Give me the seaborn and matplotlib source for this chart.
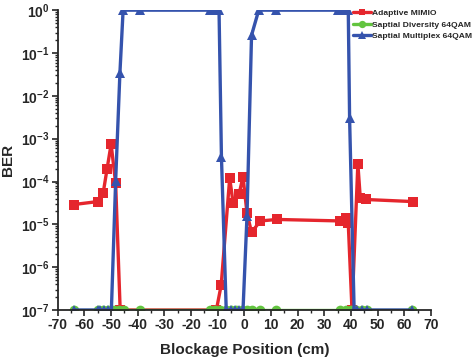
import numpy as np
import pandas as pd
import matplotlib.pyplot as plt
import seaborn as sns

# Adaptive MIMIO (red squares)
mimo_x = [-64, -55, -53, -51.5, -50, -48.3, -46.6, -10.5, -8.7, -5.5, -4.2, -2, -0.5,
          1, 2.7, 6, 12.3, 36, 38, 39, 40.4, 42.6, 43.5, 45.6, 63.2]
mimo_y = [2.9e-5, 3.4e-5, 5.3e-5, 2e-4, 7.5e-4, 9e-5, 1e-7, 1e-7, 3.8e-7, 1.2e-4, 3.1e-5,
          5e-5, 1.3e-4, 1.8e-5, 6.5e-6, 1.2e-5, 1.3e-5, 1.2e-5, 1.4e-5, 1.05e-5, 1e-7,
          2.6e-4, 4.2e-5, 3.8e-5, 3.4e-5]

# Saptial Diversity 64QAM (green circles) - stays at the floor
div_x = [-64, -55, -53, -51, -49, -47, -45, -39, -13, -11, -9, -7, -5, -3, -1,
         1, 3, 6, 12, 36, 38, 40, 42, 44, 46, 63]
div_y = [1e-7] * len(div_x)

# Saptial Multiplex 64QAM (blue triangles)
mux_x = [-64, -55, -54, -52.5, -51, -49.9, -48.3, -46.7, -45.5, -39, -13, -11, -9.5,
         -8.6, -6.8, -5, -3.5, -2, -0.5, 1, 2.7, 5.4, 12, 35, 37, 39, 39.5, 41.2,
         42.2, 44, 46, 63]
mux_y = [1e-7, 1e-7, 1e-7, 1e-7, 1e-7, 1e-7, 1.04e-4, 3.4e-2, 1, 1, 1, 1, 1,
         3.8e-4, 1e-7, 1e-7, 1e-7, 1e-7, 1e-7, 1.6e-5, 0.26, 1, 1, 1, 1, 1, 3e-3, 1e-7,
         1e-7, 1e-7, 1e-7, 1e-7]

labels = ["Adaptive MIMIO", "Saptial Diversity 64QAM", "Saptial Multiplex 64QAM"]
x_ticks = list(range(-70, 71, 10))
y_exps = list(range(-7, 1))

sns.set_style("ticks")
plt.rcParams['font.family'] = ['Liberation Sans', 'DejaVu Sans']
plt.rcParams['font.weight'] = 'bold'
plt.rcParams['mathtext.fontset'] = 'custom'
plt.rcParams['mathtext.rm'] = 'Liberation Sans:bold'
plt.rcParams['mathtext.bf'] = 'Liberation Sans:bold'
plt.rcParams['mathtext.default'] = 'bf'

fig = plt.figure(figsize=(4.74, 3.63), dpi=100)
ax = fig.add_axes([0.122, 0.146, 0.787, 0.826])

series = [
    (mimo_x, mimo_y, "#e5262d", "s", 6.5),
    (div_x, div_y, "#62c43f", "o", 7),
    (mux_x, mux_y, "#3553ad", "^", 7.5),
]
for (xs, ys, col, mk, ms), lab in zip(series, labels):
    sns.lineplot(x=xs, y=ys, ax=ax, color=col, marker=mk, markersize=ms,
                 markeredgewidth=0, linewidth=2.4, label=lab, sort=False,
                 estimator=None)

ax.set_yscale('log')
ax.set_xlim(-70, 70)
ax.set_ylim(1e-7, 1)
ax.set_xticks(x_ticks)
ax.set_xticklabels([str(t) for t in x_ticks])
ax.set_xticks(np.arange(-65, 70, 10), minor=True)
ax.set_yticks([10.0 ** e for e in y_exps])
ax.set_yticklabels([r'$\mathbf{10^{%d}}$' % e for e in y_exps])
ax.tick_params(axis='both', which='major', labelsize=10, length=4, width=1.2, pad=2)
ax.tick_params(axis='both', which='minor', length=2.5, width=1.0)
for s in ['left', 'bottom']:
    ax.spines[s].set_linewidth(1.3)
sns.despine(ax=ax)

ax.set_xlabel("Blockage Position (cm)", fontsize=11, fontweight='bold', labelpad=8)
ax.set_ylabel("BER", fontsize=11, fontweight='bold', labelpad=4)

ax.legend(loc='upper left', bbox_to_anchor=(353 / 474, 1 - 9 / 363),
          bbox_transform=fig.transFigure, frameon=False, fontsize=6.1,
          handlelength=2.1, handletextpad=0.2, labelspacing=0.45,
          borderaxespad=0, borderpad=0, markerscale=0.75)

fig.savefig("out.png", dpi=100)
